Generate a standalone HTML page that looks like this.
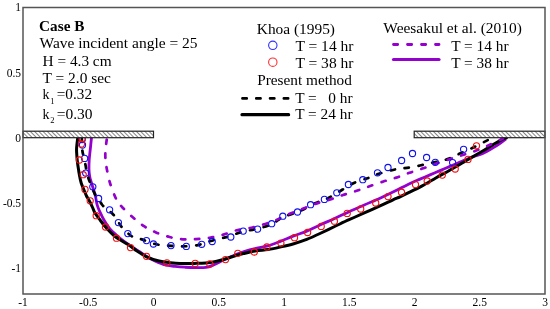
<!DOCTYPE html>
<html><head><meta charset="utf-8"><title>Case B</title>
<style>
html,body{margin:0;padding:0;background:#fff;}
body{width:550px;height:309px;overflow:hidden;}
svg{display:block;}
text{font-family:"Liberation Serif",serif;fill:#000;}
</style></head><body>
<svg width="550" height="309" viewBox="0 0 550 309">
<defs>
<pattern id="hatch" patternUnits="userSpaceOnUse" width="3" height="3" patternTransform="rotate(-45)">
<rect width="3" height="3" fill="#fff"/>
<line x1="0" y1="0" x2="0" y2="3" stroke="#333" stroke-width="1.2"/>
</pattern>
</defs>
<rect width="550" height="309" fill="#fff"/>

<path d="M91.5,137.5 C91.3,139.6 90.6,146.2 90.2,150.0 C89.8,153.8 89.4,156.7 89.2,160.0 C89.0,163.3 88.9,167.2 89.0,170.0 C89.1,172.8 89.4,174.8 89.8,177.0 C90.2,179.2 90.8,180.7 91.5,183.0 C92.2,185.3 93.3,188.7 94.0,191.0 C94.7,193.3 95.1,194.7 95.6,197.0 C96.1,199.3 96.6,202.7 97.2,205.0 C97.8,207.3 98.3,208.4 99.4,210.8 C100.5,213.2 102.0,216.6 103.7,219.5 C105.4,222.4 107.3,225.6 109.5,228.3 C111.7,231.0 114.4,233.3 116.8,235.5 C119.2,237.7 121.7,239.6 124.1,241.4 C126.5,243.2 128.8,244.7 131.4,246.5 C134.1,248.3 137.5,250.3 140.0,252.0 C142.5,253.7 144.1,255.0 146.6,256.5 C149.1,258.0 151.9,259.6 155.0,261.0 C158.1,262.4 162.0,264.1 165.3,265.0 C168.6,265.9 171.8,265.9 175.0,266.3 C178.2,266.7 181.5,267.0 184.7,267.2 C187.9,267.4 190.9,267.6 194.4,267.6 C197.9,267.6 202.7,267.8 205.9,267.4 C209.1,267.0 211.1,266.0 213.5,265.0 C215.9,264.0 218.1,262.8 220.5,261.6 C222.9,260.4 225.2,259.3 228.0,258.0 C230.8,256.7 234.3,255.1 237.0,254.0 C239.7,252.9 241.0,252.4 244.0,251.5 C247.0,250.6 251.0,249.5 255.0,248.6 C259.0,247.7 263.6,247.0 267.9,245.8 C272.2,244.6 276.6,242.8 280.9,241.2 C285.2,239.5 289.5,237.6 293.8,235.9 C298.1,234.2 302.3,232.9 306.7,231.1 C311.1,229.3 315.4,227.1 320.0,225.0 C324.6,222.9 329.8,220.7 334.6,218.5 C339.5,216.3 344.2,213.9 349.1,211.7 C354.0,209.5 358.6,207.4 363.7,205.2 C368.8,202.9 374.8,200.6 380.0,198.2 C385.2,195.8 390.0,193.5 395.0,191.0 C400.0,188.5 405.8,185.4 410.0,183.4 C414.2,181.4 416.7,180.5 420.0,179.1 C423.3,177.7 426.7,176.3 430.0,174.9 C433.3,173.5 436.7,172.0 440.0,170.6 C443.3,169.2 446.7,167.8 450.0,166.4 C453.3,165.0 456.7,163.5 460.0,162.1 C463.3,160.7 466.3,159.2 470.0,157.8 C473.7,156.4 478.7,155.2 482.3,153.7 C485.9,152.2 488.7,150.4 491.4,148.8 C494.1,147.2 496.2,146.1 498.6,144.4 C501.0,142.7 504.8,139.7 506.0,138.8" fill="none" stroke="#9400cc" stroke-width="2.8" stroke-linejoin="round"/>
<path d="M77.8,137.5 C77.6,139.2 76.8,145.1 76.6,148.0 C76.4,150.9 76.7,152.8 76.8,155.0 C76.9,157.2 77.0,158.5 77.3,161.0 C77.6,163.5 78.2,167.7 78.6,170.0 C78.9,172.3 79.0,172.8 79.4,175.0 C79.8,177.2 80.4,180.5 81.2,183.0 C82.0,185.5 83.1,187.8 84.0,190.0 C84.9,192.2 85.7,194.3 86.5,196.0 C87.3,197.7 87.9,198.0 88.9,200.0 C90.0,202.0 91.8,205.8 92.8,208.0 C93.8,210.2 93.7,210.8 95.0,213.0 C96.3,215.2 98.9,218.4 100.8,221.0 C102.7,223.6 104.4,225.9 106.6,228.3 C108.8,230.7 111.5,233.4 113.9,235.5 C116.3,237.6 118.5,238.9 121.2,240.6 C123.9,242.3 127.3,244.0 129.9,245.7 C132.5,247.4 134.2,249.2 137.0,251.0 C139.8,252.8 142.9,255.1 146.6,256.8 C150.3,258.5 155.1,260.0 159.0,261.0 C162.9,262.0 166.5,262.3 170.0,262.7 C173.5,263.1 175.9,263.4 180.0,263.5 C184.1,263.6 190.1,263.5 194.4,263.4 C198.7,263.3 202.2,263.3 205.9,262.9 C209.6,262.5 213.2,262.0 216.8,261.2 C220.4,260.4 224.1,259.3 227.7,258.2 C231.3,257.1 234.0,256.0 238.6,254.8 C243.2,253.6 250.1,251.9 255.0,251.0 C259.9,250.1 263.6,250.3 267.9,249.6 C272.2,248.9 276.6,247.9 280.9,246.9 C285.2,245.9 289.5,244.9 293.8,243.7 C298.1,242.4 302.3,241.1 306.7,239.4 C311.1,237.7 315.4,235.7 320.0,233.5 C324.6,231.3 329.8,228.8 334.6,226.5 C339.5,224.2 344.2,221.9 349.1,219.7 C354.0,217.5 358.6,215.5 363.7,213.2 C368.8,210.9 375.1,208.1 380.0,205.9 C384.9,203.7 389.7,201.3 393.0,199.8 C396.3,198.3 397.4,198.0 400.0,196.8 C402.6,195.6 404.9,194.5 408.6,192.7 C412.3,190.9 417.7,188.3 422.2,185.9 C426.7,183.5 431.3,180.6 435.8,178.0 C440.3,175.4 445.3,172.8 449.3,170.5 C453.3,168.2 456.4,166.4 459.7,164.5 C463.0,162.6 465.6,161.0 469.4,158.8 C473.2,156.6 478.3,153.7 482.3,151.3 C486.3,148.9 489.7,146.7 493.2,144.6 C496.7,142.5 500.8,140.0 503.2,138.8 C505.6,137.6 506.8,137.8 507.5,137.6" fill="none" stroke="#000" stroke-width="3" stroke-linejoin="round"/>
<path d="M81.8,138.0 C81.9,140.0 82.0,146.8 82.3,150.0 C82.6,153.2 83.2,154.3 83.8,157.0 C84.4,159.7 85.2,163.3 85.7,166.0 C86.2,168.7 86.0,170.2 86.8,173.0 C87.5,175.8 89.2,180.2 90.2,183.0 C91.2,185.8 92.0,187.8 93.0,190.0 C94.0,192.2 95.0,194.3 96.0,196.0 C97.0,197.7 98.2,198.5 99.2,200.0 C100.2,201.5 101.0,203.4 102.3,205.0 C103.6,206.6 105.3,208.1 107.0,209.5 C108.7,210.9 110.8,212.0 112.5,213.7 C114.2,215.4 115.7,217.6 117.0,219.5 C118.3,221.4 119.2,223.6 120.5,225.4 C121.8,227.2 123.3,228.8 125.0,230.5 C126.7,232.2 128.8,234.2 130.6,235.5 C132.4,236.8 134.1,237.3 136.0,238.0 C137.9,238.7 139.6,238.7 141.9,239.4 C144.2,240.2 147.2,241.6 150.0,242.5 C152.8,243.4 155.9,244.3 159.0,244.8 C162.1,245.3 164.8,245.3 168.5,245.6 C172.2,245.9 176.6,246.5 181.5,246.4 C186.4,246.3 192.8,246.0 197.7,245.1 C202.5,244.2 206.3,242.2 210.6,241.0 C214.9,239.8 220.3,238.6 223.5,237.8 C226.7,237.0 227.0,237.0 230.0,236.0 C233.0,235.0 237.2,233.2 241.7,232.0 C246.2,230.8 252.2,230.0 257.2,228.7 C262.2,227.4 267.9,226.0 271.7,224.3 C275.5,222.6 277.8,219.9 280.0,218.6 C282.2,217.2 281.9,217.3 285.0,216.2 C288.1,215.0 293.6,213.8 298.6,211.7 C303.6,209.5 310.1,205.6 315.0,203.3 C319.9,201.1 323.4,200.5 328.0,198.2 C332.6,195.9 338.0,192.2 342.6,189.5 C347.2,186.8 351.2,184.2 355.5,182.3 C359.8,180.4 364.5,179.3 368.4,177.9 C372.3,176.5 374.3,175.2 378.8,173.8 C383.3,172.4 389.6,170.6 395.3,169.4 C401.0,168.2 407.2,168.0 413.1,166.9 C419.0,165.8 425.3,164.3 430.9,163.1 C436.5,161.8 442.0,161.0 446.8,159.4 C451.6,157.8 455.5,155.5 459.8,153.6 C464.1,151.7 468.6,149.8 472.7,147.8 C476.8,145.9 481.4,143.4 484.3,141.9 C487.2,140.4 489.1,139.5 490.0,139.0" fill="none" stroke="#000" stroke-width="2.7" stroke-dasharray="4.3 9.7" stroke-dashoffset="1.6" stroke-linecap="round"/>
<path d="M107.0,137.5 C106.8,139.1 106.1,144.1 105.8,147.0 C105.5,149.9 105.3,152.3 105.3,155.0 C105.3,157.7 105.7,160.5 106.0,163.0 C106.3,165.5 106.3,166.7 107.0,170.0 C107.7,173.3 108.7,178.6 110.0,183.0 C111.3,187.4 113.6,193.2 115.0,196.5 C116.4,199.8 117.2,200.7 118.5,202.5 C119.8,204.3 120.2,205.1 122.5,207.5 C124.8,209.9 128.9,213.9 132.5,217.0 C136.1,220.1 140.1,223.6 144.0,226.2 C147.9,228.8 151.8,230.6 156.0,232.4 C160.2,234.2 165.0,235.8 169.5,237.0 C174.0,238.2 178.6,239.0 183.0,239.3 C187.4,239.7 191.5,239.3 196.0,239.1 C200.5,238.8 205.2,238.6 209.8,237.8 C214.4,237.1 219.2,235.8 223.5,234.6 C227.8,233.4 230.8,231.7 235.8,230.5 C240.8,229.3 247.2,228.7 253.3,227.2 C259.4,225.7 266.8,223.6 272.7,221.4 C278.6,219.2 283.8,216.2 288.7,214.2 C293.6,212.1 297.4,210.8 301.8,209.1 C306.2,207.4 310.3,205.6 314.9,204.0 C319.5,202.4 324.8,201.2 329.5,199.7 C334.2,198.2 338.5,196.5 343.0,195.0 C347.5,193.5 352.4,192.2 356.7,190.8 C361.0,189.4 364.4,188.1 368.9,186.5 C373.3,184.9 378.8,183.0 383.4,181.5 C388.0,180.0 392.0,179.0 396.4,177.6 C400.8,176.2 405.0,174.4 409.5,172.8 C414.0,171.2 418.8,169.9 423.3,168.3 C427.8,166.8 432.0,165.0 436.4,163.5 C440.8,162.0 445.1,160.6 449.5,159.2 C453.9,157.8 458.3,156.4 462.6,155.0 C466.9,153.6 471.0,152.6 475.3,151.0 C479.6,149.4 483.6,147.6 488.2,145.5 C492.8,143.4 500.5,139.7 503.0,138.5" fill="none" stroke="#9400cc" stroke-width="2.7" stroke-dasharray="4.3 9.68" stroke-dashoffset="11.93" stroke-linecap="round"/>
<circle cx="82.2" cy="139.5" r="3.1" fill="none" stroke="#1010f0" stroke-width="1.1"/>
<circle cx="82.5" cy="145.0" r="3.1" fill="none" stroke="#1010f0" stroke-width="1.1"/>
<circle cx="84.6" cy="158.4" r="3.1" fill="none" stroke="#1010f0" stroke-width="1.1"/>
<circle cx="85.7" cy="173.1" r="3.1" fill="none" stroke="#1010f0" stroke-width="1.1"/>
<circle cx="92.8" cy="186.8" r="3.1" fill="none" stroke="#1010f0" stroke-width="1.1"/>
<circle cx="98.6" cy="198.5" r="3.1" fill="none" stroke="#1010f0" stroke-width="1.1"/>
<circle cx="109.6" cy="209.8" r="3.1" fill="none" stroke="#1010f0" stroke-width="1.1"/>
<circle cx="118.4" cy="222.6" r="3.1" fill="none" stroke="#1010f0" stroke-width="1.1"/>
<circle cx="127.8" cy="233.6" r="3.1" fill="none" stroke="#1010f0" stroke-width="1.1"/>
<circle cx="146.5" cy="240.6" r="3.1" fill="none" stroke="#1010f0" stroke-width="1.1"/>
<circle cx="153.4" cy="244.0" r="3.1" fill="none" stroke="#1010f0" stroke-width="1.1"/>
<circle cx="171.0" cy="245.6" r="3.1" fill="none" stroke="#1010f0" stroke-width="1.1"/>
<circle cx="186.3" cy="246.4" r="3.1" fill="none" stroke="#1010f0" stroke-width="1.1"/>
<circle cx="201.7" cy="244.3" r="3.1" fill="none" stroke="#1010f0" stroke-width="1.1"/>
<circle cx="212.2" cy="241.5" r="3.1" fill="none" stroke="#1010f0" stroke-width="1.1"/>
<circle cx="230.8" cy="237.0" r="3.1" fill="none" stroke="#1010f0" stroke-width="1.1"/>
<circle cx="243.2" cy="231.1" r="3.1" fill="none" stroke="#1010f0" stroke-width="1.1"/>
<circle cx="257.6" cy="229.1" r="3.1" fill="none" stroke="#1010f0" stroke-width="1.1"/>
<circle cx="271.7" cy="223.7" r="3.1" fill="none" stroke="#1010f0" stroke-width="1.1"/>
<circle cx="282.8" cy="216.2" r="3.1" fill="none" stroke="#1010f0" stroke-width="1.1"/>
<circle cx="297.5" cy="212.0" r="3.1" fill="none" stroke="#1010f0" stroke-width="1.1"/>
<circle cx="310.6" cy="204.7" r="3.1" fill="none" stroke="#1010f0" stroke-width="1.1"/>
<circle cx="324.4" cy="199.4" r="3.1" fill="none" stroke="#1010f0" stroke-width="1.1"/>
<circle cx="336.8" cy="192.8" r="3.1" fill="none" stroke="#1010f0" stroke-width="1.1"/>
<circle cx="348.4" cy="184.5" r="3.1" fill="none" stroke="#1010f0" stroke-width="1.1"/>
<circle cx="362.8" cy="179.7" r="3.1" fill="none" stroke="#1010f0" stroke-width="1.1"/>
<circle cx="377.5" cy="172.8" r="3.1" fill="none" stroke="#1010f0" stroke-width="1.1"/>
<circle cx="388.0" cy="167.5" r="3.1" fill="none" stroke="#1010f0" stroke-width="1.1"/>
<circle cx="401.6" cy="160.5" r="3.1" fill="none" stroke="#1010f0" stroke-width="1.1"/>
<circle cx="412.5" cy="153.5" r="3.1" fill="none" stroke="#1010f0" stroke-width="1.1"/>
<circle cx="426.6" cy="157.5" r="3.1" fill="none" stroke="#1010f0" stroke-width="1.1"/>
<circle cx="435.3" cy="162.3" r="3.1" fill="none" stroke="#1010f0" stroke-width="1.1"/>
<circle cx="452.6" cy="162.6" r="3.1" fill="none" stroke="#1010f0" stroke-width="1.1"/>
<circle cx="463.6" cy="149.3" r="3.1" fill="none" stroke="#1010f0" stroke-width="1.1"/>
<circle cx="82.2" cy="138.5" r="3.1" fill="none" stroke="#f01010" stroke-width="1.1"/>
<circle cx="81.4" cy="144.0" r="3.1" fill="none" stroke="#f01010" stroke-width="1.1"/>
<circle cx="79.4" cy="160.0" r="3.1" fill="none" stroke="#f01010" stroke-width="1.1"/>
<circle cx="83.2" cy="174.7" r="3.1" fill="none" stroke="#f01010" stroke-width="1.1"/>
<circle cx="85.0" cy="189.4" r="3.1" fill="none" stroke="#f01010" stroke-width="1.1"/>
<circle cx="90.2" cy="200.8" r="3.1" fill="none" stroke="#f01010" stroke-width="1.1"/>
<circle cx="96.2" cy="215.7" r="3.1" fill="none" stroke="#f01010" stroke-width="1.1"/>
<circle cx="105.5" cy="227.0" r="3.1" fill="none" stroke="#f01010" stroke-width="1.1"/>
<circle cx="116.5" cy="238.2" r="3.1" fill="none" stroke="#f01010" stroke-width="1.1"/>
<circle cx="130.5" cy="247.6" r="3.1" fill="none" stroke="#f01010" stroke-width="1.1"/>
<circle cx="146.5" cy="256.3" r="3.1" fill="none" stroke="#f01010" stroke-width="1.1"/>
<circle cx="166.9" cy="262.8" r="3.1" fill="none" stroke="#f01010" stroke-width="1.1"/>
<circle cx="195.2" cy="263.4" r="3.1" fill="none" stroke="#f01010" stroke-width="1.1"/>
<circle cx="209.8" cy="264.0" r="3.1" fill="none" stroke="#f01010" stroke-width="1.1"/>
<circle cx="225.5" cy="259.6" r="3.1" fill="none" stroke="#f01010" stroke-width="1.1"/>
<circle cx="237.8" cy="253.4" r="3.1" fill="none" stroke="#f01010" stroke-width="1.1"/>
<circle cx="254.3" cy="252.0" r="3.1" fill="none" stroke="#f01010" stroke-width="1.1"/>
<circle cx="266.9" cy="247.0" r="3.1" fill="none" stroke="#f01010" stroke-width="1.1"/>
<circle cx="280.9" cy="243.1" r="3.1" fill="none" stroke="#f01010" stroke-width="1.1"/>
<circle cx="294.5" cy="237.7" r="3.1" fill="none" stroke="#f01010" stroke-width="1.1"/>
<circle cx="307.6" cy="232.5" r="3.1" fill="none" stroke="#f01010" stroke-width="1.1"/>
<circle cx="321.2" cy="226.4" r="3.1" fill="none" stroke="#f01010" stroke-width="1.1"/>
<circle cx="334.4" cy="221.2" r="3.1" fill="none" stroke="#f01010" stroke-width="1.1"/>
<circle cx="347.2" cy="213.4" r="3.1" fill="none" stroke="#f01010" stroke-width="1.1"/>
<circle cx="360.7" cy="209.0" r="3.1" fill="none" stroke="#f01010" stroke-width="1.1"/>
<circle cx="375.7" cy="203.0" r="3.1" fill="none" stroke="#f01010" stroke-width="1.1"/>
<circle cx="388.0" cy="196.6" r="3.1" fill="none" stroke="#f01010" stroke-width="1.1"/>
<circle cx="401.5" cy="192.2" r="3.1" fill="none" stroke="#f01010" stroke-width="1.1"/>
<circle cx="415.5" cy="184.6" r="3.1" fill="none" stroke="#f01010" stroke-width="1.1"/>
<circle cx="427.2" cy="181.0" r="3.1" fill="none" stroke="#f01010" stroke-width="1.1"/>
<circle cx="442.3" cy="175.1" r="3.1" fill="none" stroke="#f01010" stroke-width="1.1"/>
<circle cx="455.2" cy="169.0" r="3.1" fill="none" stroke="#f01010" stroke-width="1.1"/>
<circle cx="468.0" cy="159.4" r="3.1" fill="none" stroke="#f01010" stroke-width="1.1"/>
<circle cx="476.5" cy="145.8" r="3.1" fill="none" stroke="#f01010" stroke-width="1.1"/>
<rect x="23" y="131.2" width="130.5" height="6.5" fill="url(#hatch)" stroke="#222" stroke-width="1.2"/>
<rect x="414.2" y="131.2" width="130.8" height="6.5" fill="url(#hatch)" stroke="#222" stroke-width="1.2"/>
<rect x="23" y="7.5" width="522" height="286.5" fill="none" stroke="#555" stroke-width="1.5"/>
<text x="23.0" y="305.8" font-size="11.5" text-anchor="middle">-1</text>
<text x="88.2" y="305.8" font-size="11.5" text-anchor="middle">-0.5</text>
<text x="153.5" y="305.8" font-size="11.5" text-anchor="middle">0</text>
<text x="218.8" y="305.8" font-size="11.5" text-anchor="middle">0.5</text>
<text x="284.0" y="305.8" font-size="11.5" text-anchor="middle">1</text>
<text x="349.2" y="305.8" font-size="11.5" text-anchor="middle">1.5</text>
<text x="414.5" y="305.8" font-size="11.5" text-anchor="middle">2</text>
<text x="479.8" y="305.8" font-size="11.5" text-anchor="middle">2.5</text>
<text x="545.0" y="305.8" font-size="11.5" text-anchor="middle">3</text>
<text x="21.1" y="11.2" font-size="11.5" text-anchor="end">1</text>
<text x="21.1" y="76.5" font-size="11.5" text-anchor="end">0.5</text>
<text x="21.1" y="141.7" font-size="11.5" text-anchor="end">0</text>
<text x="21.1" y="206.9" font-size="11.5" text-anchor="end">-0.5</text>
<text x="21.1" y="272.2" font-size="11.5" text-anchor="end">-1</text>
<text x="39.1" y="31.0" font-size="14" text-anchor="start" textLength="45.3" lengthAdjust="spacingAndGlyphs" font-weight="bold">Case B</text>
<text x="39.5" y="47.7" font-size="14" text-anchor="start" textLength="158.1" lengthAdjust="spacingAndGlyphs">Wave incident angle = 25</text>
<text x="42.5" y="65.8" font-size="14" text-anchor="start" textLength="69.1" lengthAdjust="spacingAndGlyphs">H = 4.3 cm</text>
<text x="42.5" y="82.8" font-size="14" text-anchor="start" textLength="68.4" lengthAdjust="spacingAndGlyphs">T = 2.0 sec</text>
<text x="42.6" y="99.3" font-size="14" text-anchor="start">k</text>
<text x="50.3" y="103.6" font-size="8.5" text-anchor="start">1</text>
<text x="56.8" y="99.3" font-size="14" text-anchor="start" textLength="35.2" lengthAdjust="spacingAndGlyphs">=0.32</text>
<text x="42.6" y="119.2" font-size="14" text-anchor="start">k</text>
<text x="50.3" y="122.6" font-size="8.5" text-anchor="start">2</text>
<text x="56.8" y="119.2" font-size="14" text-anchor="start" textLength="35.8" lengthAdjust="spacingAndGlyphs">=0.30</text>
<text x="256.8" y="33.5" font-size="14.4" text-anchor="start" textLength="78.2" lengthAdjust="spacingAndGlyphs">Khoa (1995)</text>
<circle cx="272.8" cy="45.3" r="4.2" fill="none" stroke="#3030ff" stroke-width="1.1"/>
<text x="295.4" y="51.0" font-size="14.5" text-anchor="start" textLength="58.1" lengthAdjust="spacingAndGlyphs">T = 14 hr</text>
<circle cx="272.8" cy="62.2" r="4.2" fill="none" stroke="#ff3030" stroke-width="1.1"/>
<text x="295.4" y="67.9" font-size="14.5" text-anchor="start" textLength="58.1" lengthAdjust="spacingAndGlyphs">T = 38 hr</text>
<text x="257.2" y="85.3" font-size="14.5" text-anchor="start" textLength="94.7" lengthAdjust="spacingAndGlyphs">Present method</text>
<line x1="242.5" y1="98.4" x2="289.3" y2="98.4" stroke="#000" stroke-width="2.8" stroke-dasharray="4.2 9.6" stroke-linecap="round"/>
<text x="295.2" y="102.7" font-size="14.5" text-anchor="start" textLength="57.3" lengthAdjust="spacingAndGlyphs" xml:space="preserve">T = &#160;&#160;0 hr</text>
<line x1="242" y1="114.7" x2="288.6" y2="114.7" stroke="#000" stroke-width="3.2" stroke-linecap="round"/>
<text x="295.2" y="119.3" font-size="14.5" text-anchor="start" textLength="57.3" lengthAdjust="spacingAndGlyphs">T = 24 hr</text>
<text x="383.3" y="33.0" font-size="14.4" text-anchor="start" textLength="138.5" lengthAdjust="spacingAndGlyphs">Weesakul et al. (2010)</text>
<line x1="393.5" y1="44.5" x2="439" y2="44.5" stroke="#9400cc" stroke-width="2.8" stroke-dasharray="4.2 9.8" stroke-linecap="round"/>
<text x="451.2" y="51.0" font-size="14.5" text-anchor="start" textLength="57.3" lengthAdjust="spacingAndGlyphs">T = 14 hr</text>
<line x1="393.5" y1="59.5" x2="439" y2="59.5" stroke="#9400cc" stroke-width="3.2" stroke-linecap="round"/>
<text x="451.2" y="68.0" font-size="14.5" text-anchor="start" textLength="57.3" lengthAdjust="spacingAndGlyphs">T = 38 hr</text>
</svg></body></html>
